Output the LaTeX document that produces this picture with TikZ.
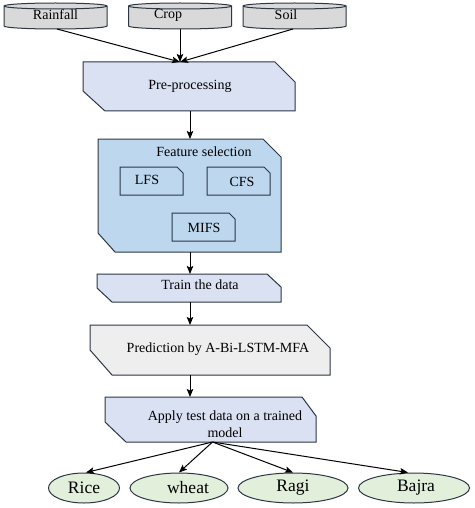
\documentclass[tikz,border=0pt]{standalone}
\usepackage{fontspec}
\setmainfont{Liberation Serif}
\usetikzlibrary{arrows.meta,shapes.geometric}
\pgfdeclarelayer{bg}
\pgfsetlayers{bg,main}
\definecolor{lav}{HTML}{DAE1F3}
\definecolor{fsblue}{HTML}{BDD7EE}
\definecolor{predgray}{HTML}{EEEEEE}
\definecolor{leaf}{HTML}{E2EFDA}
\definecolor{cylgray}{HTML}{D9D9D9}
\definecolor{edge}{HTML}{2C3644}
\tikzset{
  holder/.style={rectangle, draw=none, inner sep=0pt, outer sep=0pt},
  shapeline/.style={draw=edge, line width=1pt, line join=miter},
  txt/.style={inner sep=0pt, font=\fontsize{14}{17}\selectfont, align=center},
  leafnode/.style={ellipse, draw=edge, line width=1pt, fill=leaf, inner sep=0pt},
  leaftxt/.style={inner sep=0pt, font=\fontsize{17.5}{20}\selectfont},
  arr/.style={draw=black, line width=1pt, -{Stealth[length=8pt,width=6.5pt,inset=1.5pt]}}
}
\newcommand\cutshape[6]{%
  \begin{pgfonlayer}{bg}
  \filldraw[shapeline, fill=#6] ([xshift=-#2pt]#1.north east) -- ([yshift=-#3pt]#1.north east)
     -- (#1.south east) -- ([xshift=#4pt]#1.south west) -- ([yshift=#5pt]#1.south west)
     -- (#1.north west) -- cycle;
  \end{pgfonlayer}}
\newcommand\cylshape[1]{%
  \begin{pgfonlayer}{bg}
  \filldraw[shapeline, fill=cylgray] ([yshift=-3pt]#1.north west) -- ([yshift=3pt]#1.south west)
     arc[start angle=180, end angle=360, x radius=51.5pt, y radius=3pt]
     -- ([yshift=-3pt]#1.north east)
     arc[start angle=0, end angle=180, x radius=51.5pt, y radius=3pt] -- cycle;
  \draw[shapeline] ([yshift=-3pt]#1.north west)
     arc[start angle=180, end angle=360, x radius=51.5pt, y radius=3pt];
  \end{pgfonlayer}}
\begin{document}
\begin{tikzpicture}[x=1pt, y=-1pt]
\useasboundingbox (0,0) rectangle (474,508);

% data sources
\node[holder, minimum width=103pt, minimum height=26pt] (rain) at (55.5,16) {};
\node[holder, minimum width=103pt, minimum height=26pt] (crop) at (180,16) {};
\node[holder, minimum width=103pt, minimum height=26pt] (soil) at (294.5,16) {};
\cylshape{rain}\cylshape{crop}\cylshape{soil}
\node[txt] (raint) at (55.5,15) {Rainfall};
\node[txt] (cropt) at (168,15) {Crop};
\node[txt] (soilt) at (286,15) {Soil};

% pre-processing
\node[holder, minimum width=212pt, minimum height=49pt] (pre) at (189,86.5) {};
\cutshape{pre}{20}{20}{22}{20}{lav}
\node[txt] (pret) at (190,86) {Pre-processing};

% feature selection
\node[holder, minimum width=183pt, minimum height=113pt] (fs) at (189.5,195.5) {};
\cutshape{fs}{18}{18}{17}{19}{fsblue}
\node[txt] (fst) at (204,152) {Feature selection};
\node[holder, minimum width=63pt, minimum height=28pt] (lfs) at (151.5,181) {};
\cutshape{lfs}{6}{6}{0}{0}{fsblue}
\node[txt] (lfst) at (147,180) {LFS};
\node[holder, minimum width=63pt, minimum height=28pt] (cfs) at (238.5,181) {};
\cutshape{cfs}{6}{6}{0}{0}{fsblue}
\node[txt] (cfst) at (242,182) {CFS};
\node[holder, minimum width=63pt, minimum height=28pt] (mifs) at (203.5,227) {};
\cutshape{mifs}{6}{6}{0}{0}{fsblue}
\node[txt] (mifst) at (204,228) {MIFS};

% train
\node[holder, minimum width=184pt, minimum height=28pt] (train) at (189,288) {};
\cutshape{train}{14}{13}{15}{14}{lav}
\node[txt] (traint) at (200,285) {Train the data};

% prediction
\node[holder, minimum width=240pt, minimum height=50pt] (pred) at (210,350) {};
\cutshape{pred}{23}{23}{22}{25}{predgray}
\node[txt] (predt) at (218,349) {Prediction by A-Bi-LSTM-MFA};

% apply
\node[holder, minimum width=211pt, minimum height=45pt] (apply) at (210.5,419.5) {};
\cutshape{apply}{14}{19}{21}{20}{lav}
\node[txt] (applyt) at (225,424) {Apply test data on a trained\\model};

% outputs
\node[leafnode, minimum width=71pt, minimum height=30pt] (rice) at (84,488) {};
\node[leaftxt] (ricet) at (84,488) {Rice};
\node[leafnode, minimum width=98pt, minimum height=30pt] (wheat) at (179,488) {};
\node[leaftxt] (wheatt) at (188,488) {wheat};
\node[leafnode, minimum width=110pt, minimum height=30pt] (ragi) at (293,488) {};
\node[leaftxt] (ragit) at (293,488) {Ragi};
\node[leafnode, minimum width=111pt, minimum height=30pt] (bajra) at (414,488) {};
\node[leaftxt] (bajrat) at (416,488) {Bajra};

% connectors
\coordinate (prein) at ([xshift=-9pt]pre.north);
\draw[arr] ([xshift=1.5pt]rain.south) -- (prein);
\draw[arr] (crop.south) -- (prein);
\draw[arr] ([xshift=-1.5pt]soil.south) -- (prein);
\draw[arr] ([xshift=1pt]pre.south) -- ([xshift=1pt]pre.south |- fs.north);
\draw[arr] ([xshift=0.5pt]fs.south) -- ([xshift=0.5pt]fs.south |- train.north);
\draw[arr] ([xshift=1pt]train.south) -- ([xshift=1pt]train.south |- pred.north);
\draw[arr] ([xshift=-20pt]pred.south) -- ([xshift=-20pt]pred.south |- apply.north);
\coordinate (src) at ([xshift=2pt]apply.south);
\draw[arr] (src) -- ([xshift=2pt]rice.north);
\draw[arr] (src) -- (wheat.north);
\draw[arr] (src) -- (ragi.north);
\draw[arr] (src) -- ([xshift=-6pt]bajra.north);
\end{tikzpicture}
\end{document}
